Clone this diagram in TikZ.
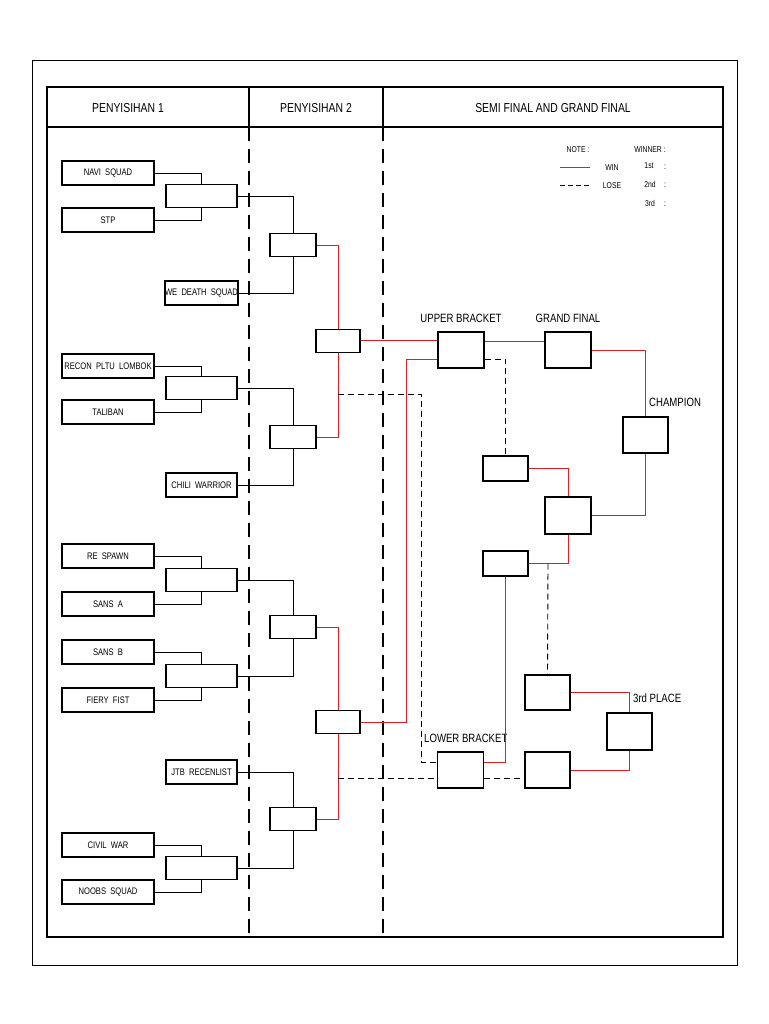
\documentclass[tikz,border=0pt]{standalone}
\usepackage{fontspec}
\setmainfont{Liberation Sans}
\newfontfamily\nar{Liberation Sans}[FakeStretch=0.8]
\definecolor{wred}{RGB}{225,30,35}
\begin{document}
\begin{tikzpicture}[x=1pt,y=-1pt,
  bx/.style={draw,line width=1.1pt,minimum width=#1,inner sep=0pt,font=\nar\fontsize{9.5}{10}\selectfont},
  tm/.style={bx=92pt,minimum height=24pt},
  tw/.style={bx=71pt,minimum height=24pt},
  m/.style={bx=71pt,minimum height=23pt},
  r2/.style={bx=46pt,minimum height=23pt},
  r3/.style={bx=44pt,minimum height=23pt},
  bg/.style={bx=46pt,minimum height=36pt},
  ln/.style={line width=0.9pt},
  wl/.style={line width=1pt,color=wred},
  lose/.style={line width=0.9pt,dash pattern=on 6pt off 4pt},
  div/.style={line width=1.5pt,dash pattern=on 14pt off 8pt},
  lbl/.style={font=\nar\fontsize{12}{13}\selectfont,inner sep=0pt},
  nt/.style={font=\nar\fontsize{8.5}{9}\selectfont,inner sep=0pt}]
\useasboundingbox (0,0) rectangle (768,1024);
\draw[line width=0.6pt] (32,60) rectangle (737,965);
\draw[line width=1.5pt] (47,87) rectangle (723,937);
\draw[line width=1.5pt] (47,127) -- (723,127);
\draw[line width=1.5pt] (249,87) -- (249,127) (383,87) -- (383,127);
\draw[div] (249,127) -- (249,937);
\draw[div] (383,127) -- (383,937);
\node[lbl,font=\nar\fontsize{13}{14}\selectfont] (h1) at (128,108) {PENYISIHAN 1};
\node[lbl,font=\nar\fontsize{13}{14}\selectfont] (h2) at (316,108) {PENYISIHAN 2};
\node[lbl,font=\nar\fontsize{13}{14}\selectfont] (h3) at (553,108) {SEMI FINAL AND GRAND FINAL};
% note
\node[nt] (note) at (578,150) {NOTE :};
\coordinate (w1) at (560,167.5); \coordinate (w2) at (590,167.5);
\draw[wl] (w1) -- (w2);
\node[nt] (winl) at (612,168) {WIN};
\coordinate (l1a) at (560,185); \coordinate (l1b) at (590,185);
\draw[lose,dash pattern=on 5pt off 3pt] (l1a) -- (l1b);
\node[nt] (lose) at (612,186) {LOSE};
\node[nt] (winner) at (650,150) {WINNER :};
\node[nt] (p1) at (649,166) {1st}; \node[nt] (q1) at (665,167) {:};
\node[nt] (p2) at (650,184) {2nd}; \node[nt] (q2) at (665,185) {:};
\node[nt] (p3) at (650,203) {3rd}; \node[nt] (q3) at (665,204) {:};
% teams
\node[tm] (navi) at (108,173) {NAVI\ \ SQUAD};
\node[tm] (stp) at (108,220) {STP};
\node[tw] (wds) at (201.5,293) {WE\ \ DEATH\ \ SQUAD};
\node[tm] (recon) at (108,366) {RECON\ \ PLTU\ \ LOMBOK};
\node[tm] (tal) at (108,412) {TALIBAN};
\node[tw] (chili) at (201.5,485) {CHILI\ \ WARRIOR};
\node[tm] (resp) at (108,556) {RE\ \ SPAWN};
\node[tm] (sa) at (108,604) {SANS\ \ A};
\node[tm] (sb) at (108,652) {SANS\ \ B};
\node[tm] (ff) at (108,700) {FIERY\ \ FIST};
\node[tw] (jtb) at (201.5,772) {JTB\ \ RECENLIST};
\node[tm] (cw) at (108,845) {CIVIL\ \ WAR};
\node[tm] (ns) at (108,892) {NOOBS\ \ SQUAD};
% round 1
\node[m] (m1) at (201.5,196) {}; \node[m] (m2) at (201.5,388) {};
\node[m] (m3) at (201.5,580) {}; \node[m] (m4) at (201.5,676) {};
\node[m] (m5) at (201.5,868) {};
\draw[ln] (navi.east) -| (m1.north); \draw[ln] (stp.east) -| (m1.south);
\draw[ln] (recon.east) -| (m2.north); \draw[ln] (tal.east) -| (m2.south);
\draw[ln] (resp.east) -| (m3.north); \draw[ln] (sa.east) -| (m3.south);
\draw[ln] (sb.east) -| (m4.north); \draw[ln] (ff.east) -| (m4.south);
\draw[ln] (cw.east) -| (m5.north); \draw[ln] (ns.east) -| (m5.south);
% round 2
\node[r2] (b1) at (293,245) {}; \node[r2] (b2) at (293,437) {};
\node[r2] (b3) at (293,627) {}; \node[r2] (b4) at (293,819) {};
\draw[ln] (m1.east) -| (b1.north); \draw[ln] (wds.east) -| (b1.south);
\draw[ln] (m2.east) -| (b2.north); \draw[ln] (chili.east) -| (b2.south);
\draw[ln] (m3.east) -| (b3.north); \draw[ln] (m4.east) -| (b3.south);
\draw[ln] (jtb.east) -| (b4.north); \draw[ln] (m5.east) -| (b4.south);
% round 3
\node[r3] (c1) at (338,341) {}; \node[r3] (c2) at (338,722) {};
\draw[wl] (b1.east) -| (c1.north); \draw[wl] (b2.east) -| (c1.south);
\draw[wl] (b3.east) -| (c2.north); \draw[wl] (b4.east) -| (c2.south);
% semi / final
\node[bg] (ub) at (461,350) {}; \node[bg] (lb) at (460.5,770) {};
\node[bg] (gf) at (568,350) {};
\node[bx=45pt,minimum height=25pt] (u2) at (505.5,468.5) {};
\node[bx=45pt,minimum height=25pt] (l2) at (505.5,563.5) {};
\node[bx=46pt,minimum height=37pt] (sf) at (568,515.5) {};
\node[bx=45pt,minimum height=36pt] (ch) at (645.5,435) {};
\node[bx=45pt,minimum height=35pt] (t1) at (547.5,692.5) {};
\node[bx=45pt,minimum height=36pt] (t2) at (547.5,770) {};
\node[bx=45pt,minimum height=37pt] (tp) at (629.5,731.5) {};
\node[lbl,anchor=south] (ubl) at (461,323) {UPPER BRACKET};
\node[lbl,anchor=south] (gfl) at (568,323) {GRAND FINAL};
\node[lbl,anchor=west] (chl) at (649,402) {CHAMPION};
\node[lbl,anchor=west] (tpl) at (633,698) {3rd PLACE};
\node[lbl,anchor=west] (lbl) at (424,738) {LOWER BRACKET};
% wins
\coordinate (c1e) at ([yshift=0.5pt]c1.east);
\draw[wl] (c1e) -- (c1e -| ub.west);
\coordinate (ubt) at ([yshift=8.5pt]ub.east);
\draw[wl] (ubt) -- (ubt -| gf.west);
\coordinate (ubb) at ([yshift=-9pt]ub.west);
\coordinate (k1) at (406,722);
\draw[wl] (c2.east) -- (k1) |- (ubb);
\draw[wl] (gf.east) -| (ch.north);
\draw[wl] (sf.east) -| (ch.south);
\draw[wl] (u2.east) -| (sf.north);
\draw[wl] (l2.east) -| (sf.south);
\coordinate (lbt) at ([yshift=8pt]lb.east);
\draw[wl] (lbt) -| (l2.south);
\draw[wl] (t1.east) -| (tp.north);
\draw[wl] (t2.east) -| (tp.south);
% loses
\coordinate (ubl2) at ([yshift=-9pt]ub.east);
\draw[lose] (ubl2) -| (u2.north);
\coordinate (d1) at (338,394); \coordinate (d2) at (421,394);
\coordinate (lbw) at ([yshift=8pt]lb.west);
\draw[lose] (d1) -- (d2) |- (lbw);
\coordinate (d3) at (338,778); \coordinate (d3b) at (438,778);
\draw[lose] (d3) -- (d3b);
\coordinate (d4) at ([yshift=-8pt]lb.east);
\draw[lose] (d4) -- (d4 -| t2.west);
\coordinate (d5) at (548,563.5);
\draw[lose] (d5) -- (t1.north);
\end{tikzpicture}
\end{document}
